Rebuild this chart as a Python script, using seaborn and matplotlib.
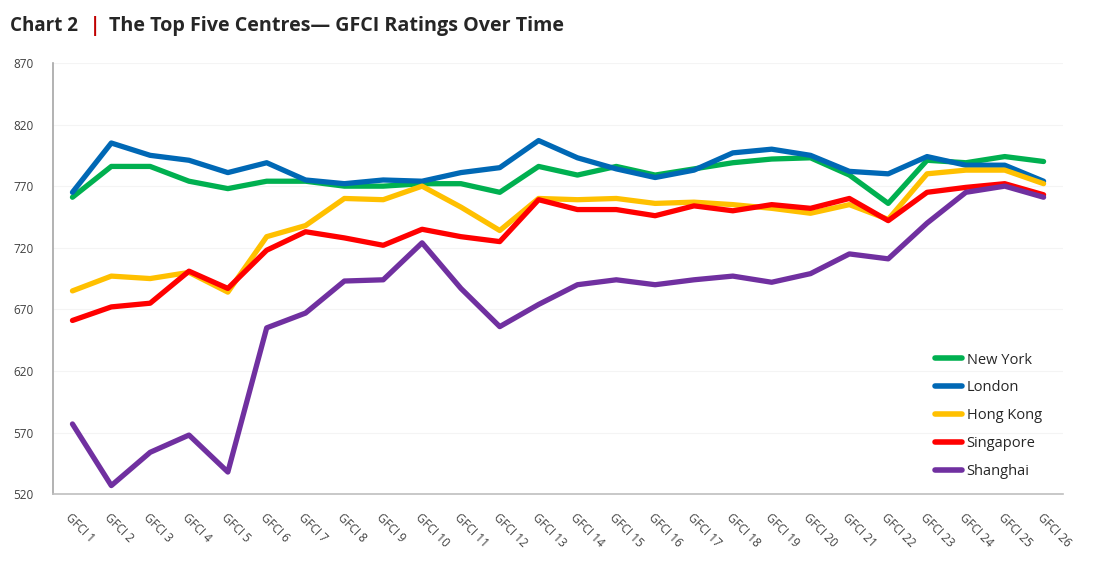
import pandas as pd
import matplotlib.pyplot as plt
import seaborn as sns

# Data
editions = [f"GFCI {i}" for i in range(1, 27)]

new_york = [761, 786, 786, 774, 768, 774, 774, 770, 770, 772, 772, 765, 786,
            779, 786, 779, 784, 789, 792, 793, 779, 756, 791, 789, 794, 790]
london = [765, 805, 795, 791, 781, 789, 775, 772, 775, 774, 781, 785, 807,
          793, 784, 777, 783, 797, 800, 795, 782, 780, 794, 787, 787, 774]
hong_kong = [685, 697, 695, 700, 684, 729, 738, 760, 759, 770, 753, 734, 760,
             759, 760, 756, 757, 755, 752, 748, 755, 743, 780, 783, 783, 772]
singapore = [661, 672, 675, 701, 687, 718, 733, 728, 722, 735, 729, 725, 759,
             751, 751, 746, 754, 750, 755, 752, 760, 742, 765, 769, 772, 763]
shanghai = [577, 527, 554, 568, 538, 655, 667, 693, 694, 724, 687, 656, 674,
            690, 694, 690, 694, 697, 692, 699, 715, 711, 740, 765, 770, 761]

centres = ["New York", "London", "Hong Kong", "Singapore", "Shanghai"]
colours = ["#00B050", "#0068B5", "#FFC000", "#FF0000", "#7030A0"]

df = pd.DataFrame({
    "GFCI": editions * 5,
    "Rating": new_york + london + hong_kong + singapore + shanghai,
    "Centre": [c for c in centres for _ in editions],
})

sns.set_style("white")
plt.rcParams["font.family"] = ["Open Sans", "DejaVu Sans"]

fig = plt.figure(figsize=(11.05, 5.72), dpi=100)
ax = fig.add_axes([0.048, 0.136, 0.914, 0.754])

sns.lineplot(data=df, x="GFCI", y="Rating", hue="Centre", hue_order=centres,
             palette=colours, linewidth=3.8, sort=False, ax=ax)

ax.set_xlim(-0.5, 25.5)
ax.set_ylim(520, 870)
ax.set_yticks(range(520, 871, 50))
ax.yaxis.grid(True, color="#F4F4F4", linewidth=0.8)
ax.set_axisbelow(True)
ax.set_xlabel("")
ax.set_ylabel("")

ax.set_xticks(range(len(editions)))
ax.set_xticklabels(editions, rotation=-45, ha="left", va="top",
                   rotation_mode="anchor", fontsize=8.5, color="#404040")
ax.tick_params(axis="y", labelsize=8.5, labelcolor="#404040", length=0, pad=14)
ax.tick_params(axis="x", length=0, pad=12)

for side in ["top", "right"]:
    ax.spines[side].set_visible(False)
ax.spines["left"].set_color("#A6A6A6")
ax.spines["bottom"].set_color("#BFBFBF")
ax.spines["left"].set_linewidth(1.2)
ax.spines["bottom"].set_linewidth(1.2)

leg = ax.legend(loc="lower right", bbox_to_anchor=(0.992, 0.005), frameon=False,
                fontsize=10.5, handlelength=1.9, handletextpad=0.3,
                labelspacing=0.88)
for line in leg.get_lines():
    line.set_linewidth(4)
for txt in leg.get_texts():
    txt.set_color("#262626")

# Title
fig.text(0.009, 0.955, "Chart 2", fontsize=13.5, fontweight="bold", va="center")
fig.text(0.081, 0.955, "|", fontsize=13.5, fontweight="bold", color="#C00000", va="center")
fig.text(0.099, 0.955, "The Top Five Centres\u2014 GFCI Ratings Over Time",
         fontsize=14.2, fontweight="bold", va="center")

fig.savefig("out.png", dpi=100)
